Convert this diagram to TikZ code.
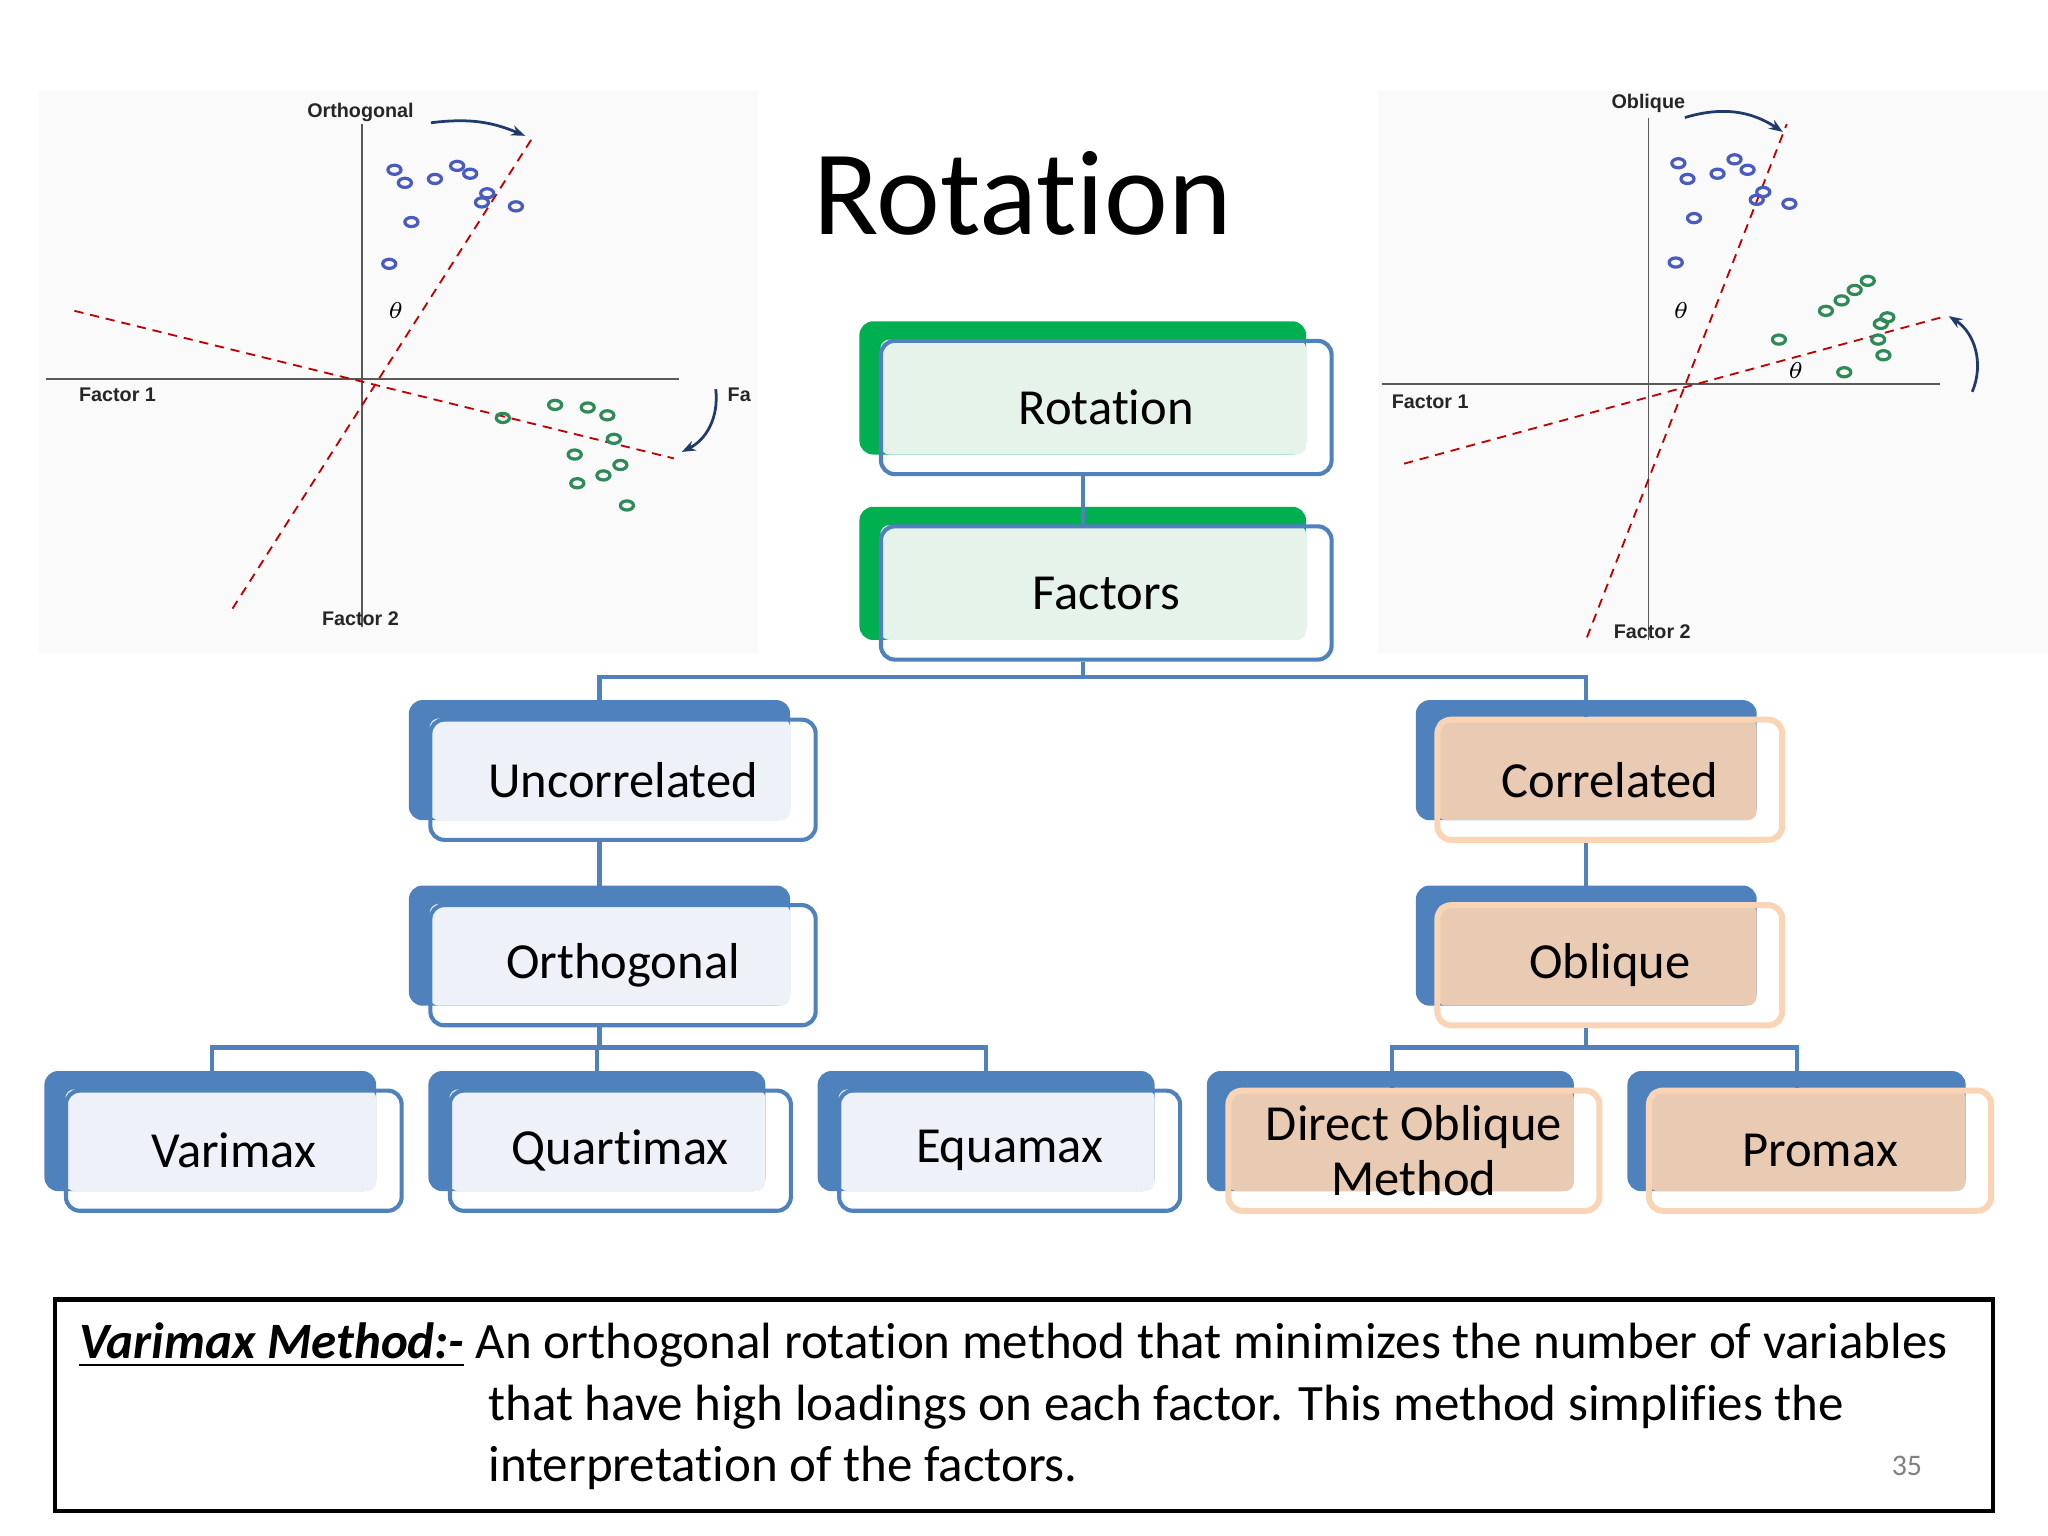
\documentclass[tikz,border=0pt]{standalone}
\usepackage{fontspec}
\setmainfont{Carlito}[Ligatures=NoCommon]
\newfontfamily\plotfont{Liberation Sans}
\usetikzlibrary{arrows.meta,calc}
\definecolor{boxblue}{HTML}{4F81BD}
\definecolor{boxgreen}{HTML}{00B050}
\definecolor{lightgreen}{HTML}{E5F3EA}
\definecolor{lightblue}{HTML}{EEF2F8}
\definecolor{peach}{HTML}{E9CAB2}
\definecolor{peachedge}{HTML}{F9D5B5}
\definecolor{dotblue}{HTML}{4A5BC0}
\definecolor{dotgreen}{HTML}{2E8B57}
\definecolor{arrowblue}{HTML}{1F3A6B}
\tikzset{
  link/.style={draw=boxblue, line width=0.9pt},
  frontbox/.style={draw=#1, line width=0.9pt, rounded corners=3pt, inner sep=0pt,
    font=\fontsize{11pt}{12pt}\selectfont, align=center},
  axis/.style={draw=gray!70!black, line width=0.35pt},
  dashred/.style={draw=red!75!black, dash pattern=on 2pt off 1.5pt, line width=0.4pt},
  plotlbl/.style={font=\plotfont\bfseries\fontsize{4.3pt}{5pt}\selectfont, text=black!85},
  bdot/.style={draw=dotblue, line width=0.7pt},
  gdot/.style={draw=dotgreen, line width=0.7pt},
  turn/.style={draw=arrowblue, line width=0.6pt, -{Stealth[length=3pt]}}
}
\begin{document}
\begin{tikzpicture}[x=0.01cm,y=-0.01cm]
\useasboundingbox (0,0) rectangle (1568,1176);
\fill[white] (0,0) rectangle (1568,1176);

% ---------- left plot ----------
\fill[black!2] (30,70) rectangle (580,500);
\draw[axis] (277,95) -- (277,480);
\draw[axis] (35,290) -- (520,290);
\draw[dashred] (178,466) -- (408,105);
\draw[dashred] (57,238) -- (516,351);
\node[plotlbl] (lo) at (276,86) {Orthogonal};
\node[plotlbl] (lf1) at (90,302) {Factor 1};
\node[plotlbl] (lf2) at (276,474) {Factor 2};
\node[plotlbl] (lfa) at (566,302) {Fa};
\node[font=\fontsize{5.5pt}{6pt}\selectfont] (lth) at (303,238) {$\theta$};
\draw[turn] (330,94) to[bend left=15] (402,104);
\draw[turn] (548,298) to[bend left=35] (522,346);
\foreach \p in {(302,130),(310,140),(333,137),(350,127),(360,133),(373,148),(369,155),(395,158),(315,170),(298,202)}
  \draw[bdot] \p ellipse (5 and 3.5);
\foreach \p in {(385,320),(425,310),(450,312),(465,318),(470,336),(440,348),(475,356),(462,364),(442,370),(480,387)}
  \draw[gdot] \p ellipse (5 and 3.5);

% ---------- right plot ----------
\fill[black!2] (1055,70) rectangle (1568,500);
\draw[axis] (1262,90) -- (1262,490);
\draw[axis] (1058,294) -- (1485,294);
\draw[dashred] (1215,488) -- (1368,95);
\draw[dashred] (1075,355) -- (1490,242);
\node[plotlbl] (ro) at (1262,79) {Oblique};
\node[plotlbl] (rf1) at (1095,308) {Factor 1};
\node[plotlbl] (rf2) at (1265,484) {Factor 2};
\node[font=\fontsize{5.5pt}{6pt}\selectfont] (rth1) at (1287,238) {$\theta$};
\node[font=\fontsize{5.5pt}{6pt}\selectfont] (rth2) at (1375,284) {$\theta$};
\draw[turn] (1290,90) to[bend left=25] (1365,101);
\draw[turn] (1510,300) to[bend right=40] (1492,242);
\foreach \p in {(1285,125),(1292,137),(1315,133),(1328,122),(1338,130),(1350,147),(1345,153),(1370,156),(1297,167),(1283,201)}
  \draw[bdot] \p ellipse (5 and 3.5);
\foreach \p in {(1362,260),(1398,238),(1410,230),(1420,222),(1430,215),(1440,248),(1445,243),(1438,260),(1442,272),(1412,285)}
  \draw[gdot] \p ellipse (5 and 3.5);

% ---------- title ----------
\node[font=\fontsize{26.3pt}{29pt}\selectfont] (title) at (783,148) {Rotation};

% ---------- boxes ----------
% back colour, light fill, front style, name, back corners, text
\newcommand{\boxat}[9]{%
  \fill[#1, rounded corners=3pt] (#5,#6) rectangle (#7,#8);
  \fill[#2, rounded corners=2pt] ($(#5,#6)+(16,14)$) rectangle (#7,#8);
  \node[#3, minimum width={(#7-#5)*0.01cm+0.03cm}, minimum height={(#8-#6)*0.01cm}] (#4)
    at ($(#5,#6)!0.5!(#7,#8)+(18,15)$) {#9};
}
\tikzset{
  bbox/.style={frontbox=boxblue},
  pbox/.style={frontbox=peachedge, line width=1.3pt}
}
\boxat{boxgreen}{lightgreen}{bbox}{rot}{658}{246}{1000}{348}{Rotation}
\boxat{boxgreen}{lightgreen}{bbox}{fac}{658}{388}{1000}{490}{Factors}
\boxat{boxblue}{lightblue}{bbox}{unc}{313}{536}{605}{628}{Uncorrelated}
\boxat{boxblue}{lightblue}{bbox}{ort}{313}{678}{605}{770}{Orthogonal}
\boxat{boxblue}{peach}{pbox}{cor}{1084}{536}{1345}{628}{Correlated}
\boxat{boxblue}{peach}{pbox}{obl}{1084}{678}{1345}{770}{Oblique}
\boxat{boxblue}{lightblue}{bbox}{var}{34}{820}{288}{912}{Varimax}
\boxat{boxblue}{lightblue}{bbox}{qua}{328}{820}{586}{912}{Quartimax}
\boxat{boxblue}{lightblue}{bbox}{equ}{626}{820}{884}{912}{Equamax}
\boxat{boxblue}{peach}{pbox}{dir}{924}{820}{1205}{912}{Direct Oblique\\Method}
\boxat{boxblue}{peach}{pbox}{pro}{1246}{820}{1505}{912}{Promax}

% ---------- connectors ----------
\draw[link] (rot.south -| 829,0) -- (fac.north -| 829,0);
\draw[link] (fac.south -| 829,0) -- (829,518);
\draw[link] (unc.north -| 459,0) -- (459,518) -- (1214,518) -- (cor.north -| 1214,0);
\draw[link] (unc.south -| 459,0) -- (ort.north -| 459,0);
\draw[link] (cor.south -| 1214,0) -- (obl.north -| 1214,0);
\draw[link] (ort.south -| 459,0) -- (459,802);
\draw[link] (var.north -| 162,0) -- (162,802) -- (755,802) -- (equ.north -| 755,0);
\draw[link] (457,802) -- (qua.north -| 457,0);
\draw[link] (obl.south -| 1214,0) -- (1214,802);
\draw[link] (dir.north -| 1066,0) -- (1066,802) -- (1376,802) -- (pro.north -| 1376,0);

% ---------- note ----------
\draw[line width=1pt] (42,995) rectangle (1526,1157);
\node[anchor=north west, align=left, inner sep=0pt, font=\fontsize{11.1pt}{13.4pt}\selectfont] (note) at (60,1012)
  {\underline{\textbf{\textit{Varimax Method:-}}} An orthogonal rotation method that minimizes the number of variables\\
   \hspace*{3.13cm}that have high loadings on each factor. This method simplifies the\\
   \hspace*{3.13cm}interpretation of the factors.};
\node[text=gray, font=\fontsize{6.5pt}{7pt}\selectfont] (page) at (1460,1122) {35};
\end{tikzpicture}
\end{document}
